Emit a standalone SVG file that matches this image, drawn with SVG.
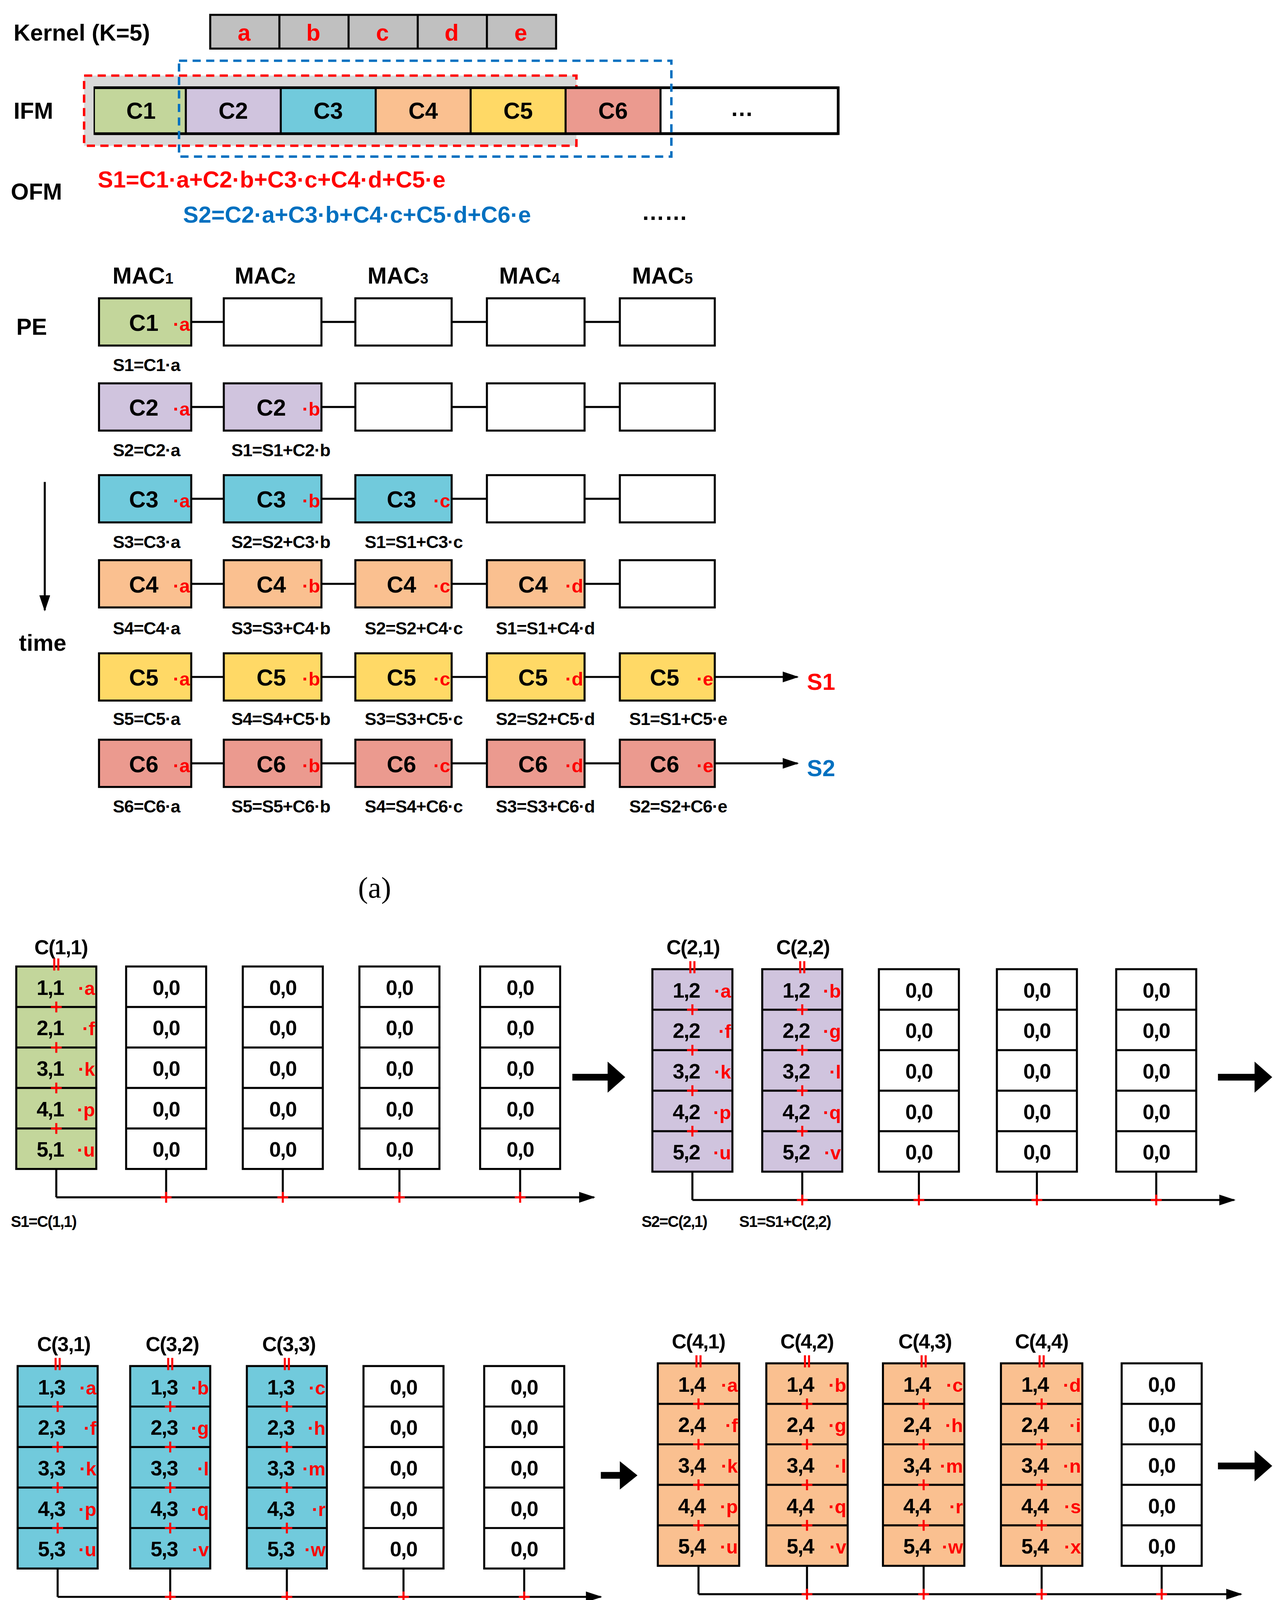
<svg xmlns="http://www.w3.org/2000/svg" width="3273" height="5401" viewBox="0 0 3273 5401">
<style>
text{font-family:"Liberation Sans Narrow","Liberation Sans",Arial,sans-serif;font-weight:bold}
.t{font-size:17px}
.n{font-size:15.5px;text-anchor:middle;letter-spacing:-0.5px}
.l{font-size:14px;text-anchor:end;fill:#ff0000}
.h{font-size:15px;text-anchor:middle;letter-spacing:-0.4px}
.s{font-size:11.5px;letter-spacing:-0.5px}
.sa{font-size:13px;text-anchor:middle;letter-spacing:-0.3px}
.m{font-size:17px;text-anchor:middle}
.red{fill:#ff0000}.blue{fill:#0070c0}
.bx{stroke:#000;stroke-width:1.5}
.g{fill:#c3d69b}.p{fill:#d0c4de}.c{fill:#71cadc}.o{fill:#fac090}.y{fill:#ffd966}.sl{fill:#eb9a8f}.w{fill:#fff}
.ln{stroke:#000;stroke-width:1.5;fill:none}
.rm{stroke:#ff0000;stroke-width:1.5;fill:none}
.cap{font-family:"Liberation Serif",serif;font-weight:normal;font-size:22px}
</style>
<defs>
<marker id="ah" markerWidth="12" markerHeight="8" refX="11" refY="4" orient="auto" markerUnits="userSpaceOnUse"><path d="M0,0L12,4L0,8z" fill="#000"/></marker>
</defs>
<rect width="3273" height="5401" fill="#fff"/>
<g transform="scale(3.4708 3.4556)">
<g id="kernel">
<text class="t" x="10" y="30">Kernel (K=5)</text>
<rect class="bx" x="155" y="11" width="255" height="25" fill="#c0c0c0"/>
<path class="ln" d="M206 11v25M257 11v25M308 11v25M359 11v25"/>
<text class="m red" x="180" y="30">a</text><text class="m red" x="231" y="30">b</text><text class="m red" x="282" y="30">c</text><text class="m red" x="333" y="30">d</text><text class="m red" x="384" y="30">e</text>
</g>
<g id="ifm">
<text class="t" x="10" y="88">IFM</text>
<rect x="62" y="56" width="363" height="52" fill="#d9d9d9" stroke="#ff0000" stroke-width="1.8" stroke-dasharray="6,4"/>
<rect x="70" y="65" width="548" height="34" fill="#fff" stroke="#000" stroke-width="2"/>
<rect x="70" y="65" width="67" height="34" class="g"/><rect x="137" y="65" width="70" height="34" class="p"/><rect x="207" y="65" width="70" height="34" class="c"/><rect x="277" y="65" width="70" height="34" class="o"/><rect x="347" y="65" width="70" height="34" class="y"/><rect x="417" y="65" width="70" height="34" class="sl"/>
<path d="M70 65h548M70 99h548" stroke="#000" stroke-width="2"/>
<path class="ln" d="M137 65v34M207 65v34M277 65v34M347 65v34M417 65v34M487 65v34" stroke-width="1"/>
<rect x="132" y="45" width="363" height="71" fill="none" stroke="#0070c0" stroke-width="1.8" stroke-dasharray="6,4"/>
<text class="m" x="104" y="88">C1</text><text class="m" x="172" y="88">C2</text><text class="m" x="242" y="88">C3</text><text class="m" x="312" y="88">C4</text><text class="m" x="382" y="88">C5</text><text class="m" x="452" y="88">C6</text><text class="m" x="547" y="86">…</text>
</g>
<g id="ofm">
<text class="t" x="8" y="148">OFM</text>
<text class="t red" x="72" y="139">S1=C1·a+C2·b+C3·c+C4·d+C5·e</text>
<text class="t blue" x="135" y="165">S2=C2·a+C3·b+C4·c+C5·d+C6·e</text>
<text class="t" x="473" y="163">……</text>
</g>
<g id="pe">
<text class="t" x="83" y="210">MAC<tspan font-size="11">1</tspan></text><text class="t" x="173" y="210">MAC<tspan font-size="11">2</tspan></text><text class="t" x="271" y="210">MAC<tspan font-size="11">3</tspan></text><text class="t" x="368" y="210">MAC<tspan font-size="11">4</tspan></text><text class="t" x="466" y="210">MAC<tspan font-size="11">5</tspan></text>
<text class="t" x="12" y="248">PE</text>
<text class="t" x="14" y="482">time</text>
</g>
<g id="connectors-a">
<path class="ln" d="M141 238.5h24M237 238.5h25M333 238.5h26M431 238.5h26"/>
<path class="ln" d="M141 301.5h24M237 301.5h25M333 301.5h26M431 301.5h26"/>
<path class="ln" d="M141 369.5h24M237 369.5h25M333 369.5h26M431 369.5h26"/>
<path class="ln" d="M141 432.5h24M237 432.5h25M333 432.5h26M431 432.5h26"/>
<path class="ln" d="M141 501.5h24M237 501.5h25M333 501.5h26M431 501.5h26"/>
<path class="ln" d="M141 565.5h24M237 565.5h25M333 565.5h26M431 565.5h26"/>
<path class="ln" d="M33 357V452" marker-end="url(#ah)"/>
<path class="ln" d="M527 501.5H588" marker-end="url(#ah)"/>
<path class="ln" d="M527 565.5H588" marker-end="url(#ah)"/>
</g>
<g id="pe-boxes">
<rect class="bx g" x="73" y="221" width="68" height="35"/><rect class="bx w" x="165" y="221" width="72" height="35"/><rect class="bx w" x="262" y="221" width="71" height="35"/><rect class="bx w" x="359" y="221" width="72" height="35"/><rect class="bx w" x="457" y="221" width="70" height="35"/>
<text class="m" x="106" y="245">C1</text><text class="l" x="140" y="245" font-size="15">·a</text>
<rect class="bx p" x="73" y="284" width="68" height="35"/><rect class="bx p" x="165" y="284" width="72" height="35"/><rect class="bx w" x="262" y="284" width="71" height="35"/><rect class="bx w" x="359" y="284" width="72" height="35"/><rect class="bx w" x="457" y="284" width="70" height="35"/>
<text class="m" x="106" y="308">C2</text><text class="l" x="140" y="308" font-size="15">·a</text><text class="m" x="200" y="308">C2</text><text class="l" x="236" y="308" font-size="15">·b</text>
<rect class="bx c" x="73" y="352" width="68" height="35"/><rect class="bx c" x="165" y="352" width="72" height="35"/><rect class="bx c" x="262" y="352" width="71" height="35"/><rect class="bx w" x="359" y="352" width="72" height="35"/><rect class="bx w" x="457" y="352" width="70" height="35"/>
<text class="m" x="106" y="376">C3</text><text class="l" x="140" y="376" font-size="15">·a</text><text class="m" x="200" y="376">C3</text><text class="l" x="236" y="376" font-size="15">·b</text><text class="m" x="296" y="376">C3</text><text class="l" x="332" y="376" font-size="15">·c</text>
<rect class="bx o" x="73" y="415" width="68" height="35"/><rect class="bx o" x="165" y="415" width="72" height="35"/><rect class="bx o" x="262" y="415" width="71" height="35"/><rect class="bx o" x="359" y="415" width="72" height="35"/><rect class="bx w" x="457" y="415" width="70" height="35"/>
<text class="m" x="106" y="439">C4</text><text class="l" x="140" y="439" font-size="15">·a</text><text class="m" x="200" y="439">C4</text><text class="l" x="236" y="439" font-size="15">·b</text><text class="m" x="296" y="439">C4</text><text class="l" x="332" y="439" font-size="15">·c</text><text class="m" x="393" y="439">C4</text><text class="l" x="430" y="439" font-size="15">·d</text>
<rect class="bx y" x="73" y="484" width="68" height="35"/><rect class="bx y" x="165" y="484" width="72" height="35"/><rect class="bx y" x="262" y="484" width="71" height="35"/><rect class="bx y" x="359" y="484" width="72" height="35"/><rect class="bx y" x="457" y="484" width="70" height="35"/>
<text class="m" x="106" y="508">C5</text><text class="l" x="140" y="508" font-size="15">·a</text><text class="m" x="200" y="508">C5</text><text class="l" x="236" y="508" font-size="15">·b</text><text class="m" x="296" y="508">C5</text><text class="l" x="332" y="508" font-size="15">·c</text><text class="m" x="393" y="508">C5</text><text class="l" x="430" y="508" font-size="15">·d</text><text class="m" x="490" y="508">C5</text><text class="l" x="526" y="508" font-size="15">·e</text>
<rect class="bx sl" x="73" y="548" width="68" height="35"/><rect class="bx sl" x="165" y="548" width="72" height="35"/><rect class="bx sl" x="262" y="548" width="71" height="35"/><rect class="bx sl" x="359" y="548" width="72" height="35"/><rect class="bx sl" x="457" y="548" width="70" height="35"/>
<text class="m" x="106" y="572">C6</text><text class="l" x="140" y="572" font-size="15">·a</text><text class="m" x="200" y="572">C6</text><text class="l" x="236" y="572" font-size="15">·b</text><text class="m" x="296" y="572">C6</text><text class="l" x="332" y="572" font-size="15">·c</text><text class="m" x="393" y="572">C6</text><text class="l" x="430" y="572" font-size="15">·d</text><text class="m" x="490" y="572">C6</text><text class="l" x="526" y="572" font-size="15">·e</text>
<text class="t red" x="595" y="511">S1</text><text class="t blue" x="595" y="575">S2</text>
</g>
<g id="pe-labels">
<text class="sa" x="108" y="275">S1=C1·a</text>
<text class="sa" x="108" y="338">S2=C2·a</text><text class="sa" x="207" y="338">S1=S1+C2·b</text>
<text class="sa" x="108" y="406">S3=C3·a</text><text class="sa" x="207" y="406">S2=S2+C3·b</text><text class="sa" x="305" y="406">S1=S1+C3·c</text>
<text class="sa" x="108" y="470">S4=C4·a</text><text class="sa" x="207" y="470">S3=S3+C4·b</text><text class="sa" x="305" y="470">S2=S2+C4·c</text><text class="sa" x="402" y="470">S1=S1+C4·d</text>
<text class="sa" x="108" y="537">S5=C5·a</text><text class="sa" x="207" y="537">S4=S4+C5·b</text><text class="sa" x="305" y="537">S3=S3+C5·c</text><text class="sa" x="402" y="537">S2=S2+C5·d</text><text class="sa" x="500" y="537">S1=S1+C5·e</text>
<text class="sa" x="108" y="602">S6=C6·a</text><text class="sa" x="207" y="602">S5=S5+C6·b</text><text class="sa" x="305" y="602">S4=S4+C6·c</text><text class="sa" x="402" y="602">S3=S3+C6·d</text><text class="sa" x="500" y="602">S2=S2+C6·e</text>
<text class="cap" x="264" y="665">(a)</text>
</g>

<g id="panel1">
<text class="h" x="45" y="707">C(1,1)</text>
<rect class="bx g" x="12" y="716" width="59" height="150"/><rect class="bx w" x="93" y="716" width="59" height="150"/><rect class="bx w" x="179" y="716" width="59" height="150"/><rect class="bx w" x="265" y="716" width="59" height="150"/><rect class="bx w" x="354" y="716" width="59" height="150"/>
<path class="ln" d="M12 746h59M12 776h59M12 806h59M12 836h59M93 746h59M93 776h59M93 806h59M93 836h59M179 746h59M179 776h59M179 806h59M179 836h59M265 746h59M265 776h59M265 806h59M265 836h59M354 746h59M354 776h59M354 806h59M354 836h59"/>
<text class="n" x="37" y="737">1,1</text><text class="l" x="70" y="737">·a</text><text class="n" x="37" y="767">2,1</text><text class="l" x="70" y="767">·f</text><text class="n" x="37" y="797">3,1</text><text class="l" x="70" y="797">·k</text><text class="n" x="37" y="827">4,1</text><text class="l" x="70" y="827">·p</text><text class="n" x="37" y="857">5,1</text><text class="l" x="70" y="857">·u</text>
<text class="n" x="122.5" y="737">0,0</text><text class="n" x="122.5" y="767">0,0</text><text class="n" x="122.5" y="797">0,0</text><text class="n" x="122.5" y="827">0,0</text><text class="n" x="122.5" y="857">0,0</text>
<text class="n" x="208.5" y="737">0,0</text><text class="n" x="208.5" y="767">0,0</text><text class="n" x="208.5" y="797">0,0</text><text class="n" x="208.5" y="827">0,0</text><text class="n" x="208.5" y="857">0,0</text>
<text class="n" x="294.5" y="737">0,0</text><text class="n" x="294.5" y="767">0,0</text><text class="n" x="294.5" y="797">0,0</text><text class="n" x="294.5" y="827">0,0</text><text class="n" x="294.5" y="857">0,0</text>
<text class="n" x="383.5" y="737">0,0</text><text class="n" x="383.5" y="767">0,0</text><text class="n" x="383.5" y="797">0,0</text><text class="n" x="383.5" y="827">0,0</text><text class="n" x="383.5" y="857">0,0</text>
<text class="s" x="8" y="909">S1=C(1,1)</text>
</g>
<g id="panel2">
<text class="h" x="511" y="707">C(2,1)</text><text class="h" x="592" y="707">C(2,2)</text>
<rect class="bx p" x="481" y="718" width="59" height="150"/><rect class="bx p" x="562" y="718" width="59" height="150"/><rect class="bx w" x="648" y="718" width="59" height="150"/><rect class="bx w" x="735" y="718" width="59" height="150"/><rect class="bx w" x="823" y="718" width="59" height="150"/>
<path class="ln" d="M481 748h59M481 778h59M481 808h59M481 838h59M562 748h59M562 778h59M562 808h59M562 838h59M648 748h59M648 778h59M648 808h59M648 838h59M735 748h59M735 778h59M735 808h59M735 838h59M823 748h59M823 778h59M823 808h59M823 838h59"/>
<text class="n" x="506" y="739">1,2</text><text class="l" x="539" y="739">·a</text><text class="n" x="506" y="769">2,2</text><text class="l" x="539" y="769">·f</text><text class="n" x="506" y="799">3,2</text><text class="l" x="539" y="799">·k</text><text class="n" x="506" y="829">4,2</text><text class="l" x="539" y="829">·p</text><text class="n" x="506" y="859">5,2</text><text class="l" x="539" y="859">·u</text>
<text class="n" x="587" y="739">1,2</text><text class="l" x="620" y="739">·b</text><text class="n" x="587" y="769">2,2</text><text class="l" x="620" y="769">·g</text><text class="n" x="587" y="799">3,2</text><text class="l" x="620" y="799">·l</text><text class="n" x="587" y="829">4,2</text><text class="l" x="620" y="829">·q</text><text class="n" x="587" y="859">5,2</text><text class="l" x="620" y="859">·v</text>
<text class="n" x="677.5" y="739">0,0</text><text class="n" x="677.5" y="769">0,0</text><text class="n" x="677.5" y="799">0,0</text><text class="n" x="677.5" y="829">0,0</text><text class="n" x="677.5" y="859">0,0</text>
<text class="n" x="764.5" y="739">0,0</text><text class="n" x="764.5" y="769">0,0</text><text class="n" x="764.5" y="799">0,0</text><text class="n" x="764.5" y="829">0,0</text><text class="n" x="764.5" y="859">0,0</text>
<text class="n" x="852.5" y="739">0,0</text><text class="n" x="852.5" y="769">0,0</text><text class="n" x="852.5" y="799">0,0</text><text class="n" x="852.5" y="829">0,0</text><text class="n" x="852.5" y="859">0,0</text>
<text class="s" x="473" y="909">S2=C(2,1)</text><text class="s" x="545" y="909">S1=S1+C(2,2)</text>
</g>
<g id="panel3">
<text class="h" x="47" y="1001">C(3,1)</text><text class="h" x="127" y="1001">C(3,2)</text><text class="h" x="213" y="1001">C(3,3)</text>
<rect class="bx c" x="13" y="1012" width="59" height="150"/><rect class="bx c" x="96" y="1012" width="59" height="150"/><rect class="bx c" x="182" y="1012" width="59" height="150"/><rect class="bx w" x="268" y="1012" width="59" height="150"/><rect class="bx w" x="357" y="1012" width="59" height="150"/>
<path class="ln" d="M13 1042h59M13 1072h59M13 1102h59M13 1132h59M96 1042h59M96 1072h59M96 1102h59M96 1132h59M182 1042h59M182 1072h59M182 1102h59M182 1132h59M268 1042h59M268 1072h59M268 1102h59M268 1132h59M357 1042h59M357 1072h59M357 1102h59M357 1132h59"/>
<text class="n" x="38" y="1033">1,3</text><text class="l" x="71" y="1033">·a</text><text class="n" x="38" y="1063">2,3</text><text class="l" x="71" y="1063">·f</text><text class="n" x="38" y="1093">3,3</text><text class="l" x="71" y="1093">·k</text><text class="n" x="38" y="1123">4,3</text><text class="l" x="71" y="1123">·p</text><text class="n" x="38" y="1153">5,3</text><text class="l" x="71" y="1153">·u</text>
<text class="n" x="121" y="1033">1,3</text><text class="l" x="154" y="1033">·b</text><text class="n" x="121" y="1063">2,3</text><text class="l" x="154" y="1063">·g</text><text class="n" x="121" y="1093">3,3</text><text class="l" x="154" y="1093">·l</text><text class="n" x="121" y="1123">4,3</text><text class="l" x="154" y="1123">·q</text><text class="n" x="121" y="1153">5,3</text><text class="l" x="154" y="1153">·v</text>
<text class="n" x="207" y="1033">1,3</text><text class="l" x="240" y="1033">·c</text><text class="n" x="207" y="1063">2,3</text><text class="l" x="240" y="1063">·h</text><text class="n" x="207" y="1093">3,3</text><text class="l" x="240" y="1093">·m</text><text class="n" x="207" y="1123">4,3</text><text class="l" x="240" y="1123">·r</text><text class="n" x="207" y="1153">5,3</text><text class="l" x="240" y="1153">·w</text>
<text class="n" x="297.5" y="1033">0,0</text><text class="n" x="297.5" y="1063">0,0</text><text class="n" x="297.5" y="1093">0,0</text><text class="n" x="297.5" y="1123">0,0</text><text class="n" x="297.5" y="1153">0,0</text>
<text class="n" x="386.5" y="1033">0,0</text><text class="n" x="386.5" y="1063">0,0</text><text class="n" x="386.5" y="1093">0,0</text><text class="n" x="386.5" y="1123">0,0</text><text class="n" x="386.5" y="1153">0,0</text>
<text class="s" x="14" y="1205">S3=C(3,1)</text><text class="s" x="91" y="1205">S2=S2+C(3,2)</text><text class="s" x="184" y="1205">S1=S1+C(3,3)</text>
</g>
<g id="panel4">
<text class="h" x="515" y="999">C(4,1)</text><text class="h" x="595" y="999">C(4,2)</text><text class="h" x="682" y="999">C(4,3)</text><text class="h" x="768" y="999">C(4,4)</text>
<rect class="bx o" x="485" y="1010" width="60" height="150"/><rect class="bx o" x="565" y="1010" width="60" height="150"/><rect class="bx o" x="651" y="1010" width="60" height="150"/><rect class="bx o" x="738" y="1010" width="60" height="150"/><rect class="bx w" x="827" y="1010" width="59" height="150"/>
<path class="ln" d="M485 1040h60M485 1070h60M485 1100h60M485 1130h60M565 1040h60M565 1070h60M565 1100h60M565 1130h60M651 1040h60M651 1070h60M651 1100h60M651 1130h60M738 1040h60M738 1070h60M738 1100h60M738 1130h60M827 1040h59M827 1070h59M827 1100h59M827 1130h59"/>
<text class="n" x="510" y="1031">1,4</text><text class="l" x="544" y="1031">·a</text><text class="n" x="510" y="1061">2,4</text><text class="l" x="544" y="1061">·f</text><text class="n" x="510" y="1091">3,4</text><text class="l" x="544" y="1091">·k</text><text class="n" x="510" y="1121">4,4</text><text class="l" x="544" y="1121">·p</text><text class="n" x="510" y="1151">5,4</text><text class="l" x="544" y="1151">·u</text>
<text class="n" x="590" y="1031">1,4</text><text class="l" x="624" y="1031">·b</text><text class="n" x="590" y="1061">2,4</text><text class="l" x="624" y="1061">·g</text><text class="n" x="590" y="1091">3,4</text><text class="l" x="624" y="1091">·l</text><text class="n" x="590" y="1121">4,4</text><text class="l" x="624" y="1121">·q</text><text class="n" x="590" y="1151">5,4</text><text class="l" x="624" y="1151">·v</text>
<text class="n" x="676" y="1031">1,4</text><text class="l" x="710" y="1031">·c</text><text class="n" x="676" y="1061">2,4</text><text class="l" x="710" y="1061">·h</text><text class="n" x="676" y="1091">3,4</text><text class="l" x="710" y="1091">·m</text><text class="n" x="676" y="1121">4,4</text><text class="l" x="710" y="1121">·r</text><text class="n" x="676" y="1151">5,4</text><text class="l" x="710" y="1151">·w</text>
<text class="n" x="763" y="1031">1,4</text><text class="l" x="797" y="1031">·d</text><text class="n" x="763" y="1061">2,4</text><text class="l" x="797" y="1061">·i</text><text class="n" x="763" y="1091">3,4</text><text class="l" x="797" y="1091">·n</text><text class="n" x="763" y="1121">4,4</text><text class="l" x="797" y="1121">·s</text><text class="n" x="763" y="1151">5,4</text><text class="l" x="797" y="1151">·x</text>
<text class="n" x="856.5" y="1031">0,0</text><text class="n" x="856.5" y="1061">0,0</text><text class="n" x="856.5" y="1091">0,0</text><text class="n" x="856.5" y="1121">0,0</text><text class="n" x="856.5" y="1151">0,0</text>
<text class="s" x="479" y="1203">S4=C(4,1)</text><text class="s" x="555" y="1203">S3=S3+C(4,2)</text><text class="s" x="649" y="1203">S2=S2+C(4,3)</text><text class="s" x="738" y="1203">S1=S1+C(4,4)</text>
</g>
<g id="panel5">
<text class="h" x="41" y="1283">C(5,1)</text><text class="h" x="121" y="1283">C(5,2)</text><text class="h" x="207" y="1283">C(5,3)</text><text class="h" x="293" y="1283">C(5,4)</text><text class="h" x="382" y="1283">C(5,5)</text>
<rect class="bx y" x="11" y="1294" width="59" height="150"/><rect class="bx y" x="91" y="1294" width="59" height="150"/><rect class="bx y" x="177" y="1294" width="59" height="150"/><rect class="bx y" x="263" y="1294" width="59" height="150"/><rect class="bx y" x="352" y="1294" width="59" height="150"/>
<path class="ln" d="M11 1324h59M11 1354h59M11 1384h59M11 1414h59M91 1324h59M91 1354h59M91 1384h59M91 1414h59M177 1324h59M177 1354h59M177 1384h59M177 1414h59M263 1324h59M263 1354h59M263 1384h59M263 1414h59M352 1324h59M352 1354h59M352 1384h59M352 1414h59"/>
<text class="n" x="36" y="1315">1,5</text><text class="l" x="69" y="1315">·a</text><text class="n" x="36" y="1345">2,5</text><text class="l" x="69" y="1345">·f</text><text class="n" x="36" y="1375">3,5</text><text class="l" x="69" y="1375">·k</text><text class="n" x="36" y="1405">4,5</text><text class="l" x="69" y="1405">·p</text><text class="n" x="36" y="1435">5,5</text><text class="l" x="69" y="1435">·u</text>
<text class="n" x="116" y="1315">1,5</text><text class="l" x="149" y="1315">·b</text><text class="n" x="116" y="1345">2,5</text><text class="l" x="149" y="1345">·g</text><text class="n" x="116" y="1375">3,5</text><text class="l" x="149" y="1375">·l</text><text class="n" x="116" y="1405">4,5</text><text class="l" x="149" y="1405">·q</text><text class="n" x="116" y="1435">5,5</text><text class="l" x="149" y="1435">·v</text>
<text class="n" x="202" y="1315">1,5</text><text class="l" x="235" y="1315">·c</text><text class="n" x="202" y="1345">2,5</text><text class="l" x="235" y="1345">·h</text><text class="n" x="202" y="1375">3,5</text><text class="l" x="235" y="1375">·m</text><text class="n" x="202" y="1405">4,5</text><text class="l" x="235" y="1405">·r</text><text class="n" x="202" y="1435">5,5</text><text class="l" x="235" y="1435">·w</text>
<text class="n" x="288" y="1315">1,5</text><text class="l" x="321" y="1315">·d</text><text class="n" x="288" y="1345">2,5</text><text class="l" x="321" y="1345">·i</text><text class="n" x="288" y="1375">3,5</text><text class="l" x="321" y="1375">·n</text><text class="n" x="288" y="1405">4,5</text><text class="l" x="321" y="1405">·s</text><text class="n" x="288" y="1435">5,5</text><text class="l" x="321" y="1435">·x</text>
<text class="n" x="377" y="1315">1,5</text><text class="l" x="410" y="1315">·e</text><text class="n" x="377" y="1345">2,5</text><text class="l" x="410" y="1345">·j</text><text class="n" x="377" y="1375">3,5</text><text class="l" x="410" y="1375">·o</text><text class="n" x="377" y="1405">4,5</text><text class="l" x="410" y="1405">·t</text><text class="n" x="377" y="1435">5,5</text><text class="l" x="410" y="1435">·y</text>
<text class="t red" x="421" y="1453" font-size="16">S1</text>
<text class="s" x="7" y="1487">S5=C(5,1)</text><text class="s" x="82" y="1487">S4=S4+C(5,2)</text><text class="s" x="168" y="1487">S3=S3+C(5,3)</text><text class="s" x="261" y="1487">S2=S2+C(5,4)</text><text class="s" x="352" y="1487">S1=S1+C(5,5)</text>
</g>
<g id="panel6">
<text class="h" x="502" y="1283">C(6,1)</text><text class="h" x="586" y="1283">C(6,2)</text><text class="h" x="672" y="1283">C(6,3)</text><text class="h" x="756" y="1283">C(6,4)</text><text class="h" x="845" y="1283">C(6,5)</text>
<rect class="bx sl" x="473" y="1294" width="59" height="150"/><rect class="bx sl" x="556" y="1294" width="59" height="150"/><rect class="bx sl" x="642" y="1294" width="59" height="150"/><rect class="bx sl" x="726" y="1294" width="59" height="150"/><rect class="bx sl" x="815" y="1294" width="59" height="150"/>
<path class="ln" d="M473 1324h59M473 1354h59M473 1384h59M473 1414h59M556 1324h59M556 1354h59M556 1384h59M556 1414h59M642 1324h59M642 1354h59M642 1384h59M642 1414h59M726 1324h59M726 1354h59M726 1384h59M726 1414h59M815 1324h59M815 1354h59M815 1384h59M815 1414h59"/>
<text class="n" x="498" y="1315">1,6</text><text class="l" x="531" y="1315">·a</text><text class="n" x="498" y="1345">2,6</text><text class="l" x="531" y="1345">·f</text><text class="n" x="498" y="1375">3,6</text><text class="l" x="531" y="1375">·k</text><text class="n" x="498" y="1405">4,6</text><text class="l" x="531" y="1405">·p</text><text class="n" x="498" y="1435">5,6</text><text class="l" x="531" y="1435">·u</text>
<text class="n" x="581" y="1315">1,6</text><text class="l" x="614" y="1315">·b</text><text class="n" x="581" y="1345">2,6</text><text class="l" x="614" y="1345">·g</text><text class="n" x="581" y="1375">3,6</text><text class="l" x="614" y="1375">·l</text><text class="n" x="581" y="1405">4,6</text><text class="l" x="614" y="1405">·q</text><text class="n" x="581" y="1435">5,6</text><text class="l" x="614" y="1435">·v</text>
<text class="n" x="667" y="1315">1,6</text><text class="l" x="700" y="1315">·c</text><text class="n" x="667" y="1345">2,6</text><text class="l" x="700" y="1345">·h</text><text class="n" x="667" y="1375">3,6</text><text class="l" x="700" y="1375">·m</text><text class="n" x="667" y="1405">4,6</text><text class="l" x="700" y="1405">·r</text><text class="n" x="667" y="1435">5,6</text><text class="l" x="700" y="1435">·w</text>
<text class="n" x="751" y="1315">1,6</text><text class="l" x="784" y="1315">·d</text><text class="n" x="751" y="1345">2,6</text><text class="l" x="784" y="1345">·i</text><text class="n" x="751" y="1375">3,6</text><text class="l" x="784" y="1375">·n</text><text class="n" x="751" y="1405">4,6</text><text class="l" x="784" y="1405">·s</text><text class="n" x="751" y="1435">5,6</text><text class="l" x="784" y="1435">·x</text>
<text class="n" x="840" y="1315">1,6</text><text class="l" x="873" y="1315">·e</text><text class="n" x="840" y="1345">2,6</text><text class="l" x="873" y="1345">·j</text><text class="n" x="840" y="1375">3,6</text><text class="l" x="873" y="1375">·o</text><text class="n" x="840" y="1405">4,6</text><text class="l" x="873" y="1405">·t</text><text class="n" x="840" y="1435">5,6</text><text class="l" x="873" y="1435">·y</text>
<text class="t blue" x="884" y="1453" font-size="16">S2</text>
<text class="s" x="468" y="1487">S6=C(6,1)</text><text class="s" x="543" y="1487">S5=S5+C(6,2)</text><text class="s" x="634" y="1487">S4=S4+C(6,3)</text><text class="s" x="728" y="1487">S3=S3+C(6,4)</text><text class="s" x="816" y="1487">S2=S2+C(6,5)</text>
<text class="cap" x="437" y="1547">(b)</text>
</g>
<g id="connectors-b">
<path class="ln" d="M41.5 866V887M122.5 866v21M208.5 866v21M294.5 866v21M383.5 866v21"/>
<path class="ln" d="M41.5 887H438" marker-end="url(#ah)"/>
<path class="rm" d="M40 710v9M43 710v9M37.5 746h8M41.5 742v8M37.5 776h8M41.5 772v8M37.5 806h8M41.5 802v8M37.5 836h8M41.5 832v8M118.5 887h8M122.5 883v8M204.5 887h8M208.5 883v8M290.5 887h8M294.5 883v8M379.5 887h8M383.5 883v8"/>
<path class="ln" d="M510.5 868V889M591.5 868v21M677.5 868v21M764.5 868v21M852.5 868v21"/>
<path class="ln" d="M510.5 889H910" marker-end="url(#ah)"/>
<path class="rm" d="M509 712v9M512 712v9M590 712v9M593 712v9M506.5 748h8M510.5 744v8M506.5 778h8M510.5 774v8M506.5 808h8M510.5 804v8M506.5 838h8M510.5 834v8M587.5 748h8M591.5 744v8M587.5 778h8M591.5 774v8M587.5 808h8M591.5 804v8M587.5 838h8M591.5 834v8M587.5 889h8M591.5 885v8M673.5 889h8M677.5 885v8M760.5 889h8M764.5 885v8M848.5 889h8M852.5 885v8"/>
<path class="ln" d="M42.5 1162V1183M125.5 1162v21M211.5 1162v21M297.5 1162v21M386.5 1162v21"/>
<path class="ln" d="M42.5 1183H443" marker-end="url(#ah)"/>
<path class="rm" d="M41 1006v9M44 1006v9M124 1006v9M127 1006v9M210 1006v9M213 1006v9M38.5 1042h8M42.5 1038v8M38.5 1072h8M42.5 1068v8M38.5 1102h8M42.5 1098v8M38.5 1132h8M42.5 1128v8M121.5 1042h8M125.5 1038v8M121.5 1072h8M125.5 1068v8M121.5 1102h8M125.5 1098v8M121.5 1132h8M125.5 1128v8M207.5 1042h8M211.5 1038v8M207.5 1072h8M211.5 1068v8M207.5 1102h8M211.5 1098v8M207.5 1132h8M211.5 1128v8M121.5 1183h8M125.5 1179v8M207.5 1183h8M211.5 1179v8M293.5 1183h8M297.5 1179v8M382.5 1183h8M386.5 1179v8"/>
<path class="ln" d="M515 1160V1181M595 1160v21M681 1160v21M768 1160v21M856.5 1160v21"/>
<path class="ln" d="M515 1181H915" marker-end="url(#ah)"/>
<path class="rm" d="M513.5 1004v9M516.5 1004v9M593.5 1004v9M596.5 1004v9M679.5 1004v9M682.5 1004v9M766.5 1004v9M769.5 1004v9M511 1040h8M515 1036v8M511 1070h8M515 1066v8M511 1100h8M515 1096v8M511 1130h8M515 1126v8M591 1040h8M595 1036v8M591 1070h8M595 1066v8M591 1100h8M595 1096v8M591 1130h8M595 1126v8M677 1040h8M681 1036v8M677 1070h8M681 1066v8M677 1100h8M681 1096v8M677 1130h8M681 1126v8M764 1040h8M768 1036v8M764 1070h8M768 1066v8M764 1100h8M768 1096v8M764 1130h8M768 1126v8M591 1181h8M595 1177v8M677 1181h8M681 1177v8M764 1181h8M768 1177v8M852.5 1181h8M856.5 1177v8"/>
<path class="ln" d="M40.5 1444V1465M120.5 1444v21M206.5 1444v21M292.5 1444v21M381.5 1444v21"/>
<path class="ln" d="M40.5 1465H455" marker-end="url(#ah)"/>
<path class="rm" d="M39 1288v9M42 1288v9M119 1288v9M122 1288v9M205 1288v9M208 1288v9M291 1288v9M294 1288v9M380 1288v9M383 1288v9M36.5 1324h8M40.5 1320v8M36.5 1354h8M40.5 1350v8M36.5 1384h8M40.5 1380v8M36.5 1414h8M40.5 1410v8M116.5 1324h8M120.5 1320v8M116.5 1354h8M120.5 1350v8M116.5 1384h8M120.5 1380v8M116.5 1414h8M120.5 1410v8M202.5 1324h8M206.5 1320v8M202.5 1354h8M206.5 1350v8M202.5 1384h8M206.5 1380v8M202.5 1414h8M206.5 1410v8M288.5 1324h8M292.5 1320v8M288.5 1354h8M292.5 1350v8M288.5 1384h8M292.5 1380v8M288.5 1414h8M292.5 1410v8M377.5 1324h8M381.5 1320v8M377.5 1354h8M381.5 1350v8M377.5 1384h8M381.5 1380v8M377.5 1414h8M381.5 1410v8M116.5 1465h8M120.5 1461v8M202.5 1465h8M206.5 1461v8M288.5 1465h8M292.5 1461v8M377.5 1465h8M381.5 1461v8"/>
<path class="ln" d="M502.5 1444V1465M585.5 1444v21M671.5 1444v21M755.5 1444v21M844.5 1444v21"/>
<path class="ln" d="M502.5 1465H905" marker-end="url(#ah)"/>
<path class="rm" d="M501 1288v9M504 1288v9M584 1288v9M587 1288v9M670 1288v9M673 1288v9M754 1288v9M757 1288v9M843 1288v9M846 1288v9M498.5 1324h8M502.5 1320v8M498.5 1354h8M502.5 1350v8M498.5 1384h8M502.5 1380v8M498.5 1414h8M502.5 1410v8M581.5 1324h8M585.5 1320v8M581.5 1354h8M585.5 1350v8M581.5 1384h8M585.5 1380v8M581.5 1414h8M585.5 1410v8M667.5 1324h8M671.5 1320v8M667.5 1354h8M671.5 1350v8M667.5 1384h8M671.5 1380v8M667.5 1414h8M671.5 1410v8M751.5 1324h8M755.5 1320v8M751.5 1354h8M755.5 1350v8M751.5 1384h8M755.5 1380v8M751.5 1414h8M755.5 1410v8M840.5 1324h8M844.5 1320v8M840.5 1354h8M844.5 1350v8M840.5 1384h8M844.5 1380v8M840.5 1414h8M844.5 1410v8M581.5 1465h8M585.5 1461v8M667.5 1465h8M671.5 1461v8M751.5 1465h8M755.5 1461v8M840.5 1465h8M844.5 1461v8"/>
<path d="M422 795.5h26v-9l13 11.5l-13 11.5v-9h-26z" fill="#000"/>
<path d="M898 795.5h27v-9l13 11.5l-13 11.5v-9h-27z" fill="#000"/>
<path d="M443 1090.5h14v-8l13 10.5l-13 10.5v-8h-14z" fill="#000"/>
<path d="M898 1083.5h27v-9l13 11.5l-13 11.5v-9h-27z" fill="#000"/>
<path d="M420 1365.5h27v-9l13 11.5l-13 11.5v-9h-27z" fill="#000"/>
</g>
</g>
</svg>
